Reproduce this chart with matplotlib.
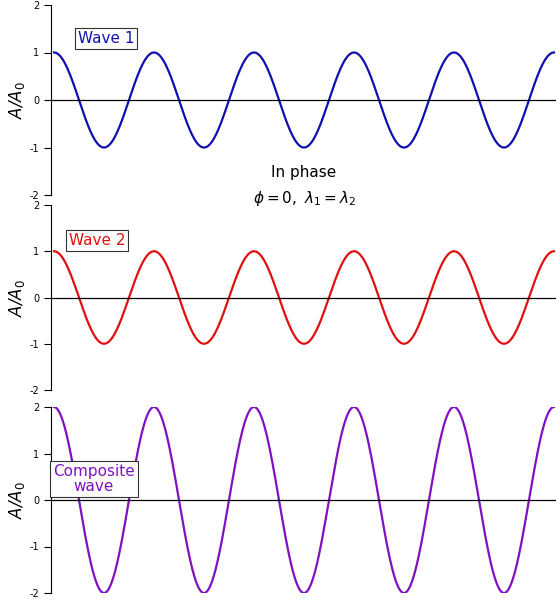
import numpy as np
import matplotlib.pyplot as plt

# wave parameters
labels = ["Wave 1", "Wave 2", "Composite\nwave"]
colors = ["#1010b0", "#e01010", "#8010c0"]
amplitudes = [1, 1, 2]
n_periods = 5
yticks = [-2, -1, 0, 1, 2]
label_pos = [(0.52, 1.3), (0.43, 1.24), (0.4, 0.45)]

fig = plt.figure(figsize=(5.56, 6), dpi=100)
W, H = 556, 600
panels = [(5, 195), (205, 390), (407, 593)]
x = np.linspace(0, n_periods, 1000)

for i, (top, bot) in enumerate(panels):
    ax = fig.add_axes([51 / W, 1 - bot / H, (W - 51) / W, (bot - top) / H])
    ax.plot(x, amplitudes[i] * np.cos(2 * np.pi * x), color=colors[i], lw=1.6)
    ax.axhline(0, color="black", lw=0.9)
    ax.set_xlim(-0.03, 5.02)
    ax.set_ylim(-2, 2)
    ax.set_yticks(yticks)
    ax.set_yticklabels([str(t) for t in yticks], fontsize=7)
    ax.tick_params(axis="y", length=5, width=0.8)
    ax.set_xticks([])
    for s in ["top", "right", "bottom"]:
        ax.spines[s].set_visible(False)
    ax.spines["left"].set_linewidth(0.8)
    ax.set_ylabel("A/A$_0$", fontsize=12, style="italic", labelpad=2)
    ax.patch.set_alpha(0)
    lx, ly = label_pos[i]
    ax.text(lx, ly, labels[i], color=colors[i], fontsize=11, ha="center",
            va="center", linespacing=1.0, zorder=5,
            bbox=dict(boxstyle="square,pad=0.2", fc="white", ec="#333333", lw=0.8))

fig.text((51 + 253) / W, 1 - 172 / H, "In phase", fontsize=11, ha="center", va="center")
fig.text((51 + 253) / W, 1 - 198 / H, r"$\phi = 0,\ \lambda_1 = \lambda_2$", fontsize=11,
         ha="center", va="center")

fig.savefig("out.png", dpi=100)
